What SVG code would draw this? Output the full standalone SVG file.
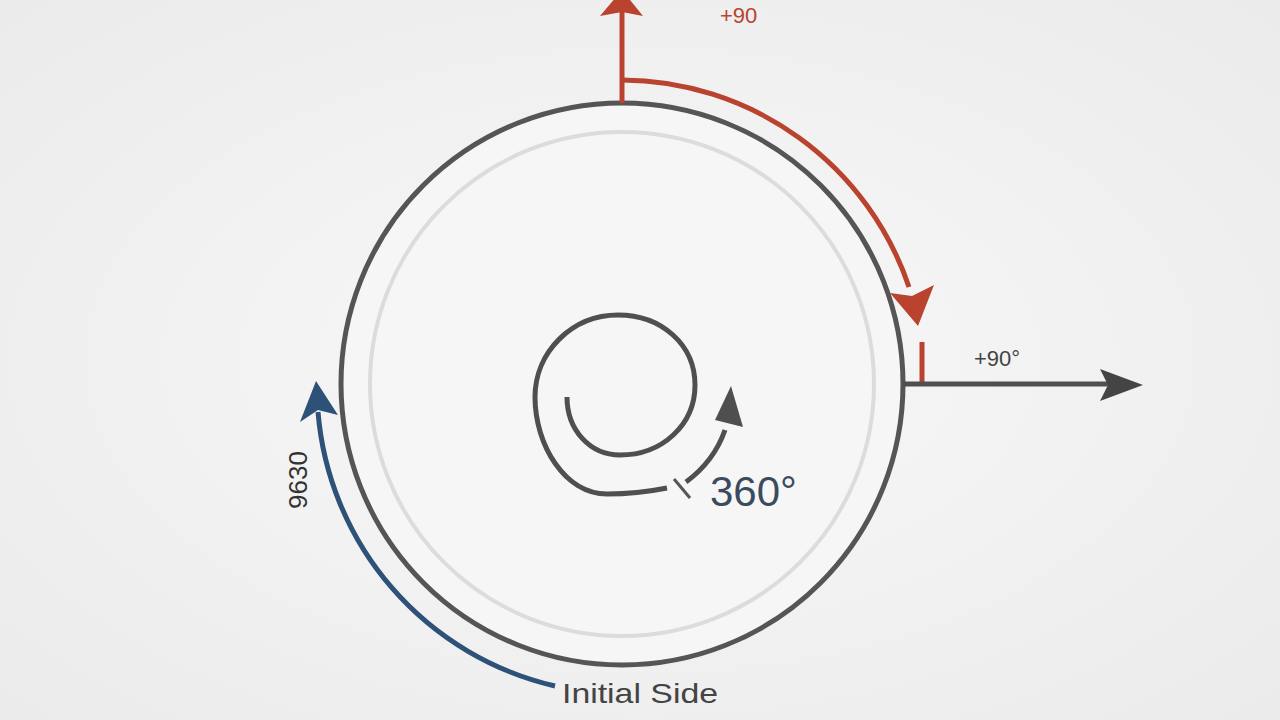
<svg xmlns="http://www.w3.org/2000/svg" width="1280" height="720" viewBox="0 0 1280 720">
<defs>
<radialGradient id="bg" cx="50%" cy="50%" r="70%">
<stop offset="0" stop-color="#f8f8f8"/>
<stop offset="1" stop-color="#ebebeb"/>
</radialGradient>
<style>
.lbl{font-family:"Liberation Sans",Arial,sans-serif;}
.red{stroke:#b9432f;fill:none;stroke-width:5;}
.blue{stroke:#2d5177;fill:none;stroke-width:5;}
.gray{stroke:#4f4f4f;fill:none;stroke-width:5;}
</style>
</defs>
<rect width="1280" height="720" fill="url(#bg)"/>
<g id="main-circle">
<circle cx="622" cy="384" r="281" fill="#f6f6f6" stroke="#555" stroke-width="5"/>
<circle cx="622" cy="384" r="252" fill="none" stroke="#dcdcdc" stroke-width="4"/>
</g>
<g id="spiral">
<path class="gray" stroke-width="6.5" d="M567,397 C567,430 590,455 620,455 C662,455 695,425 695,385 C695,345 662,315 618,315 C572,315 535,352 535,397 C535,445 565,494 607,494 C630,494 652,491 667,488"/>
<line x1="674" y1="479" x2="690" y2="498" stroke="#555" stroke-width="3"/>
<path class="gray" stroke-width="6.5" d="M686,482 C705,468 718,450 725,430"/>
<polygon points="715,420 731,386 743,427" fill="#4f4f4f"/>
<text class="lbl" x="710" y="506" font-size="42" fill="#3b4b5e">360°</text>
</g>
<g id="connectors">
<line class="red" x1="622" y1="103" x2="622" y2="12"/>
<polygon points="600,16 622,-10 643,16 622,12" fill="#b9432f"/>
<path class="red" d="M622,80 A304,304 0 0 1 909,287"/>
<polygon points="890,293 918,326 934,285 912,296" fill="#b9432f"/>
<line class="red" x1="922" y1="342" x2="922" y2="383"/>
<line class="gray" x1="903" y1="384" x2="1108" y2="384"/>
<polygon points="1100,369 1143,385 1100,401 1108,385" fill="#444"/>
<path class="blue" d="M555,686 A307,307 0 0 1 318,412"/>
<polygon points="300,422 316,381 338,415 318,410" fill="#2d5177"/>
</g>
<g id="labels">
<text class="lbl" x="720" y="23" font-size="22" fill="#b9432f">+90</text>
<text class="lbl" x="974" y="366" font-size="22" fill="#444">+90°</text>
<text class="lbl" transform="translate(307,480) rotate(-90)" text-anchor="middle" font-size="26" fill="#333">9630</text>
<text class="lbl" x="562" y="703" font-size="28" fill="#444" textLength="156" lengthAdjust="spacingAndGlyphs">Initial Side</text>
</g>
</svg>
